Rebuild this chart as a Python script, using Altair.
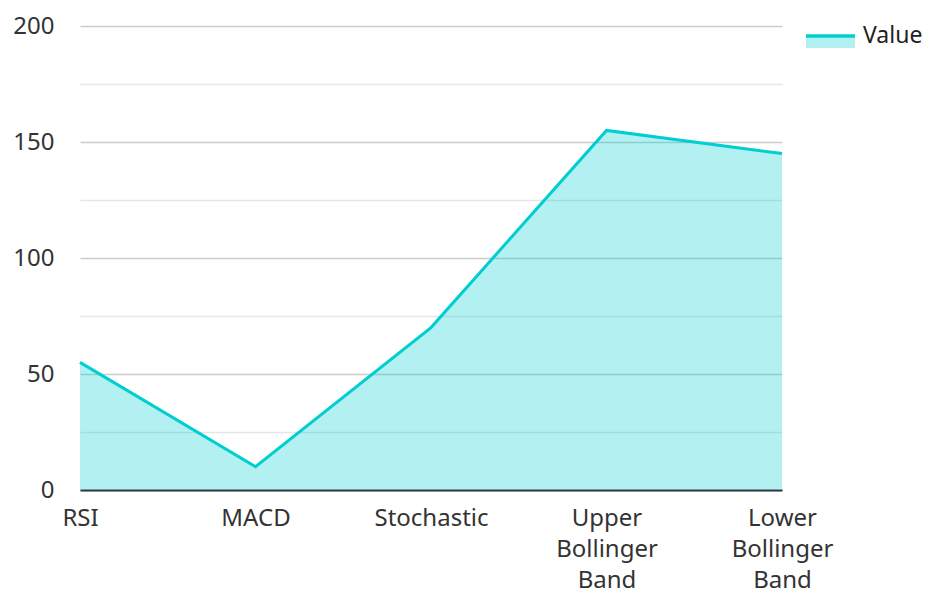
import altair as alt
import pandas as pd

categories = ["RSI", "MACD", "Stochastic", "Upper Bollinger Band", "Lower Bollinger Band"]
values = [55, 10, 70, 155, 145]
series_name = ["Value"]
y_ticks = [0, 25, 50, 75, 100, 125, 150, 175, 200]

LINE = "#00CED1"
FONT = "Noto Sans"

df = pd.DataFrame({"indicator": categories, "value": values})
leg = pd.DataFrame({"label": series_name})

x_enc = alt.X(
    "indicator:N",
    sort=categories,
    scale=alt.Scale(type="point", padding=0),
    axis=alt.Axis(
        title=None,
        labelAngle=0,
        labelExpr="split(datum.label, ' ')",
        labelLineHeight=31,
        labelPadding=16,
        ticks=False,
        grid=False,
        domainColor="#333333",
        domainWidth=2,
    ),
)
y_enc = alt.Y(
    "value:Q",
    scale=alt.Scale(domain=[0, 200], nice=False),
    axis=alt.Axis(
        title=None,
        values=y_ticks,
        labelExpr="datum.value % 50 === 0 ? datum.label : ''",
        ticks=False,
        domain=False,
        labelPadding=26,
        gridColor={"condition": {"test": "datum.value % 50 === 0", "value": "#cccccc"}, "value": "#e6e6e6"},
        gridWidth=1.5,
    ),
)

base = alt.Chart(df)
area = base.mark_area(color=LINE, opacity=0.3).encode(x=x_enc, y=y_enc)
line = base.mark_line(color=LINE, strokeWidth=3).encode(x=x_enc, y=y_enc)

legend_box = alt.Chart(leg).mark_rect(color=LINE, opacity=0.3).encode(
    x=alt.value(726), x2=alt.value(775), y=alt.value(9), y2=alt.value(22)
)
legend_line = alt.Chart(leg).mark_rule(color=LINE, strokeWidth=3.5).encode(
    x=alt.value(726), x2=alt.value(775), y=alt.value(10)
)
legend_text = alt.Chart(leg).mark_text(
    align="left", baseline="middle", fontSize=23, font=FONT, color="#222222"
).encode(x=alt.value(783), y=alt.value(10), text="label:N")

chart = (
    alt.layer(area, line, legend_box, legend_line, legend_text)
    .properties(
        width=702,
        height=464,
        autosize=alt.AutoSizeParams(type="none"),
        padding={"left": 72, "top": 18, "right": 142, "bottom": 110},
    )
    .configure_view(stroke=None)
    .configure_axis(labelFont=FONT, labelFontSize=24, labelColor="#333333")
)

chart.save("out.html", embed_options={"renderer": "svg", "actions": False})
